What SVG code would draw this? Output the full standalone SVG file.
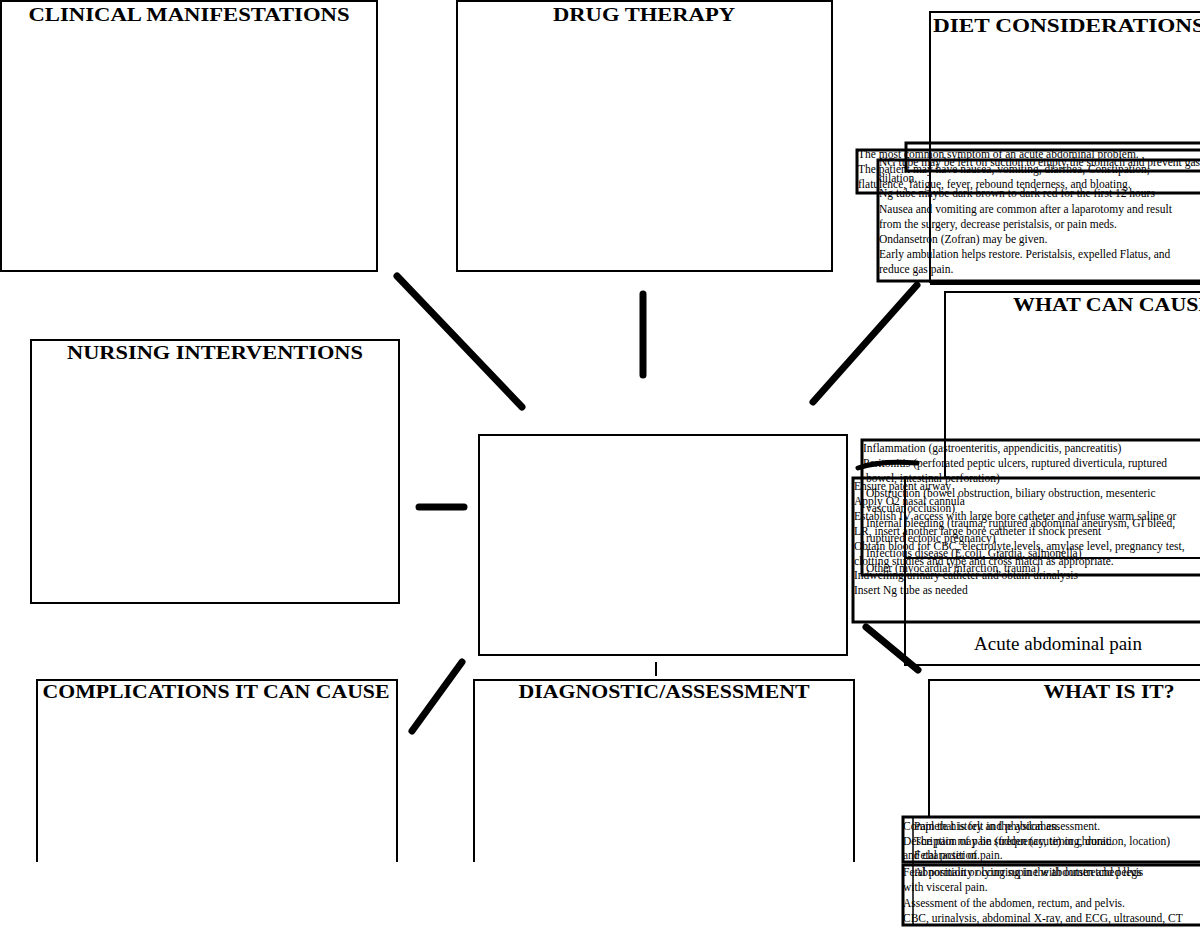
<svg xmlns="http://www.w3.org/2000/svg" width="1200" height="927" viewBox="0 0 1200 927">
<style>
.box{fill:none;stroke:#000;stroke-width:2}
.tbox{fill:none;stroke:#000;stroke-width:3}
.title{font-family:"Liberation Serif",serif;font-weight:bold;font-size:19px;fill:#000}
.t{font-family:"Liberation Serif",serif;font-size:11.5px;fill:#000}
.big{font-family:"Liberation Serif","Times New Roman",serif;font-size:19px;fill:#000}
.conn{stroke:#000;stroke-width:7;stroke-linecap:round;fill:none}
</style>
<rect width="1200" height="927" fill="#fff"/>
<g id="clinical">
<rect class="box" x="1" y="1" width="376" height="270"/>
<text class="title" x="189" y="21" text-anchor="middle" textLength="321" lengthAdjust="spacingAndGlyphs">CLINICAL MANIFESTATIONS</text>
</g>
<g id="drug">
<rect class="box" x="457" y="1" width="375" height="270"/>
<text class="title" x="644" y="21" text-anchor="middle" textLength="182" lengthAdjust="spacingAndGlyphs">DRUG THERAPY</text>
</g>
<g id="diet">
<rect class="box" x="930" y="12" width="290" height="270"/>
<line x1="930" y1="283" x2="1200" y2="283" stroke="#000" stroke-width="4"/>
<text class="title" x="933" y="32" textLength="272" lengthAdjust="spacingAndGlyphs">DIET CONSIDERATIONS</text>
</g>
<g id="whatcause">
<rect class="box" x="945" y="292" width="280" height="186"/>
<text class="title" x="1013" y="311" textLength="200" lengthAdjust="spacingAndGlyphs">WHAT CAN CAUSE</text>
</g>
<g id="nursing">
<rect class="box" x="31" y="340" width="368" height="263"/>
<text class="title" x="215" y="359" text-anchor="middle" textLength="296" lengthAdjust="spacingAndGlyphs">NURSING INTERVENTIONS</text>
</g>
<g id="center">
<rect class="box" x="479" y="435" width="368" height="220"/>
</g>
<g id="complications">
<path class="box" d="M37 862 V680 H397 V862"/>
<text class="title" x="216" y="698" text-anchor="middle" textLength="347" lengthAdjust="spacingAndGlyphs">COMPLICATIONS IT CAN CAUSE</text>
</g>
<g id="diagnostic">
<path class="box" d="M474 862 V680 H854 V862"/>
<text class="title" x="664" y="698" text-anchor="middle" textLength="291" lengthAdjust="spacingAndGlyphs">DIAGNOSTIC/ASSESSMENT</text>
</g>
<g id="whatis">
<path class="box" d="M929 817 V680 H1220"/>
<text class="title" x="1109" y="698" text-anchor="middle" textLength="131" lengthAdjust="spacingAndGlyphs">WHAT IS IT?</text>
</g>
<g id="clinical-text">
<rect class="tbox" x="857" y="150" width="350" height="43"/>
<text class="t" x="858" y="158">The most common symptom of an acute abdominal problem.</text>
<text class="t" x="858" y="173">The patient may have nausea, vomiting, diarrhea, Constipation,</text>
<text class="t" x="858" y="188">flatulence, fatigue, fever, rebound tenderness, and bloating.</text>
</g>
<g id="drug-text">
<rect class="tbox" x="906" y="143" width="300" height="28"/>
<rect class="tbox" x="878" y="160" width="330" height="121"/>
<text class="t" x="879" y="166">NG tube may be left on suction to empty the stomach and prevent gastric</text>
<text class="t" x="879" y="182">dilation.</text>
<text class="t" x="879" y="197">Ng tube maybe dark brown to dark red for the first 12 hours</text>
<text class="t" x="879" y="213">Nausea and vomiting are common after a laparotomy and result</text>
<text class="t" x="879" y="228">from the surgery, decrease peristalsis, or pain meds.</text>
<text class="t" x="879" y="243">Ondansetron (Zofran) may be given.</text>
<text class="t" x="879" y="258">Early ambulation helps restore. Peristalsis, expelled Flatus, and</text>
<text class="t" x="879" y="273">reduce gas pain.</text>
</g>
<g id="cause-text">
<rect class="tbox" x="862" y="440" width="345" height="135"/>
<text class="t" x="863" y="452">Inflammation (gastroenteritis, appendicitis, pancreatitis)</text>
<text class="t" x="863" y="467">Peritonitis (perforated peptic ulcers, ruptured diverticula, ruptured</text>
<text class="t" x="866" y="482">bowel, intestinal perforation)</text>
<text class="t" x="866" y="497">Obstruction (bowel obstruction, biliary obstruction, mesenteric</text>
<text class="t" x="866" y="512">vascular occlusion)</text>
<text class="t" x="866" y="527">Internal bleeding (trauma, ruptured abdominal aneurysm, GI bleed,</text>
<text class="t" x="866" y="542">ruptured ectopic pregnancy)</text>
<text class="t" x="866" y="557">Infectious disease (E.coli, Giardia, salmonella)</text>
<text class="t" x="866" y="572">Other (myocardial infarction, trauma)</text>
</g>
<g id="nursing-text">
<rect class="tbox" x="853" y="478" width="355" height="144"/>
<rect class="box" x="905" y="478" width="300" height="80"/>
<text class="t" x="854" y="490">Ensure patent airway</text>
<text class="t" x="854" y="505">Apply O2 nasal cannula</text>
<text class="t" x="854" y="520">Establish IV access with large bore catheter and infuse warm saline or</text>
<text class="t" x="854" y="535">LR, insert another large bore catheter if shock present</text>
<text class="t" x="854" y="550">Obtain blood for CBC, electrolyte levels, amylase level, pregnancy test,</text>
<text class="t" x="854" y="565">clotting studies and type and cross match as appropriate.</text>
<text class="t" x="854" y="579">Indwelling urinary catheter and obtain urinalysis</text>
<text class="t" x="854" y="594">Insert Ng tube as needed</text>
</g>
<g id="center-text">
<path class="box" d="M905 558 V665 H1210"/>
<text class="big" x="1058" y="650" text-anchor="middle">Acute abdominal pain</text>
</g>
<g id="whatis-text">
<rect class="tbox" x="903" y="817" width="305" height="45"/>
<rect class="tbox" x="903" y="865" width="305" height="60"/>
<line x1="913" y1="817" x2="913" y2="925" stroke="#000" stroke-width="1.5"/>
<text class="t" x="903" y="830">Complete history and physical assessment.</text>
<text class="t" x="903" y="845">Description of pain (frequency, timing, duration, location)</text>
<text class="t" x="903" y="859">and character of pain.</text>
<text class="t" x="914" y="830">Pain that is felt in the abdomen.</text>
<text class="t" x="914" y="845">The pain may be sudden (acute) or chronic.</text>
<text class="t" x="914" y="859">Fetal position.</text>
<text class="t" x="903" y="876">Fetal position or lying supine with outstretched legs</text>
<text class="t" x="914" y="876">Abnormality occurring in the abdomen and pelvis</text>
<text class="t" x="903" y="891">with visceral pain.</text>
<text class="t" x="903" y="907">Assessment of the abdomen, rectum, and pelvis.</text>
<text class="t" x="903" y="922">CBC, urinalysis, abdominal X-ray, and ECG, ultrasound, CT</text>
</g>
<g id="connectors">
<line class="conn" x1="397" y1="276" x2="522" y2="407"/>
<line class="conn" x1="643" y1="294" x2="643" y2="375"/>
<line class="conn" x1="813" y1="402" x2="917" y2="285"/>
<line class="conn" x1="419" y1="507" x2="464" y2="507"/>
<line class="conn" x1="866" y1="627" x2="918" y2="670"/>
<line class="conn" x1="412" y1="731" x2="462" y2="662"/>
<line x1="656" y1="662" x2="656" y2="676" stroke="#000" stroke-width="2"/>
<path d="M858 468 Q880 460 917 463" stroke="#000" stroke-width="5" fill="none" stroke-linecap="round"/>
</g>
</svg>
